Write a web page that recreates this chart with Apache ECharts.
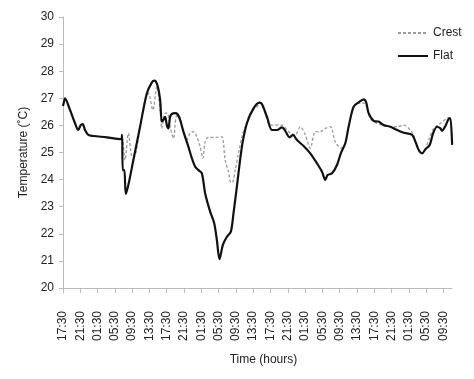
<!DOCTYPE html>
<html>
<head>
<meta charset="utf-8">
<script src="https://cdn.jsdelivr.net/npm/echarts@6/dist/echarts.min.js"></script>
<style>html,body{margin:0;padding:0;background:#fff}#c{width:474px;height:379px}</style>
</head>
<body>
<div id="c"></div>
<script>
// Tick labels every 4 hours, starting 17:30
const timeLabels = ['17:30','21:30','01:30','05:30','09:30','13:30','17:30','21:30','01:30','05:30','09:30','13:30','17:30','21:30','01:30','05:30','09:30','13:30','17:30','21:30','01:30','05:30','09:30'];

// Hours since first 17:30 and temperatures (°C)
const flatHours = [0,0.23,0.46,1.62,2.78,3.54,4.10,4.56,5.09,5.86,7.02,10.12,13.43,13.67,13.83,14.20,14.52,15.12,16.28,17.83,19.39,20.54,21.15,21.84,22.47,22.86,23.23,23.63,24.02,24.39,24.78,25.18,25.94,26.47,27.10,27.86,29.02,29.81,30.57,31.34,32.13,32.89,34.05,34.98,35.60,36.20,36.99,37.92,38.84,39.45,40.23,41.39,42.55,44.08,45.47,46.02,47.18,48.34,49.50,50.66,51.42,52.42,53.20,54.13,55.66,57.21,58.76,59.92,60.68,61.22,62.24,63.39,64.32,65.32,66.08,67.24,68.40,69.56,70.11,70.71,71.87,73.03,74.19,75.74,77.29,78.82,80.77,81.53,82.30,83.08,83.85,84.84,85.63,86.56,87.32,87.71,88.48,89.41,89.64,90.03];
const flatTemps = [26.72,26.87,27.00,26.57,26.08,25.83,26.01,26.05,25.83,25.65,25.61,25.56,25.49,25.65,24.35,24.35,23.47,23.80,24.72,25.95,27.18,27.58,27.65,27.49,26.94,26.14,26.20,26.32,26.01,25.89,26.32,26.42,26.45,26.42,26.20,25.77,25.21,24.79,24.48,24.35,24.23,23.49,22.82,22.39,21.77,21.06,21.59,21.89,22.08,22.76,23.74,25.21,26.08,26.63,26.84,26.79,26.32,25.83,25.83,25.93,25.80,25.56,25.65,25.46,25.24,24.97,24.60,24.29,23.99,24.17,24.23,24.54,24.99,25.34,25.95,26.69,26.85,26.96,26.87,26.45,26.17,26.14,26.01,25.95,25.83,25.73,25.65,25.40,25.09,24.97,25.12,25.28,25.71,25.95,25.89,25.80,25.98,26.26,26.26,25.28];

const crestHours = [0,0.23,0.46,1.62,2.78,3.54,4.10,4.56,5.09,5.86,7.02,10.12,13.43,13.67,14.36,15.12,15.91,16.44,17.83,18.99,19.76,20.78,21.70,22.47,22.86,23.63,24.16,24.78,25.55,26.17,26.71,27.86,28.65,29.42,30.18,30.97,31.73,32.36,32.89,33.65,35.60,36.76,37.13,37.52,38.29,38.84,39.31,39.84,40.60,41.39,42.16,43.31,44.86,45.63,46.39,47.55,48.71,50.66,52.18,53.74,54.90,56.05,57.21,58.37,59.53,60.68,61.84,63.00,64.32,65.32,66.08,67.47,69.19,69.94,71.10,72.26,74.19,75.74,77.29,78.82,80.37,81.13,81.53,82.30,83.08,83.85,84.61,85.77,87.32,88.87,89.41];
const crestTemps = [26.72,26.87,27.00,26.57,26.08,25.83,26.01,26.05,25.83,25.65,25.61,25.56,25.49,25.60,24.72,25.71,24.85,24.83,25.95,26.94,27.18,26.57,27.43,26.57,25.89,26.45,26.45,25.95,25.52,26.32,26.38,25.77,25.46,25.71,25.77,25.58,25.21,24.79,25.40,25.56,25.56,25.58,25.34,24.72,24.29,23.89,23.92,24.35,24.97,25.58,25.95,26.45,26.69,26.82,26.63,26.08,26.01,26.01,25.77,25.65,25.95,25.65,25.16,25.77,25.77,25.89,25.95,25.40,25.16,25.34,25.95,26.75,26.82,26.82,26.26,26.10,26.01,25.95,25.95,26.01,25.83,25.65,25.40,25.09,24.97,25.12,25.46,25.89,26.08,26.26,26.30];

const zip = (a, b) => a.map((v, i) => [v, b[i]]);
const tickVals = timeLabels.map((_, i) => i * 4);
const font = '"Liberation Sans", Arial, sans-serif';

const chart = echarts.init(document.getElementById('c'), null, {renderer: 'canvas'});
chart.setOption({
  animation: false,
  backgroundColor: '#ffffff',
  grid: {left: 63, right: 22, top: 17, bottom: 91, containLabel: false},
  legend: {
    orient: 'vertical', left: 392, top: 22, itemGap: 11,
    itemWidth: 30, itemHeight: 14,
    itemStyle: {opacity: 0},
    textStyle: {fontFamily: font, fontSize: 12, color: '#222'},
    data: ['Crest', 'Flat']
  },
  xAxis: {
    type: 'value', min: 0, max: 90, interval: 4,
    name: 'Time (hours)', nameLocation: 'middle', nameGap: 66,
    nameTextStyle: {fontFamily: font, fontSize: 12, color: '#222', padding: [0, 0, 0, 12]},
    axisLine: {show: true, lineStyle: {color: '#bbbbbb', width: 1}},
    axisTick: {show: true, length: 5, lineStyle: {color: '#bbbbbb'}, customValues: tickVals},
    splitLine: {show: false},
    axisLabel: {
      rotate: 90, margin: 23, fontFamily: font, fontSize: 12, color: '#222',
      customValues: tickVals,
      formatter: v => (v % 4 === 0 && timeLabels[v / 4]) ? timeLabels[v / 4] : ''
    }
  },
  yAxis: {
    type: 'value', min: 20, max: 30, interval: 1,
    name: 'Temperature (˚C)', nameLocation: 'middle', nameGap: 30,
    nameTextStyle: {fontFamily: font, fontSize: 12, color: '#222'},
    axisLine: {show: true, lineStyle: {color: '#bbbbbb', width: 1}},
    axisTick: {show: true, length: 4, lineStyle: {color: '#bbbbbb'}},
    splitLine: {show: false},
    axisLabel: {margin: 9, fontFamily: font, fontSize: 12, color: '#222'}
  },
  series: [
    {
      name: 'Crest', type: 'line', data: zip(crestHours, crestTemps),
      symbol: 'none', smooth: 0.3,
      lineStyle: {color: '#9a9a9a', width: 1.3, type: [3, 2]},
      itemStyle: {color: '#9a9a9a'}
    },
    {
      name: 'Flat', type: 'line', data: zip(flatHours, flatTemps),
      symbol: 'none', smooth: 0.3,
      lineStyle: {color: '#111111', width: 2.2},
      itemStyle: {color: '#111111'}
    }
  ]
});
</script>
</body>
</html>
